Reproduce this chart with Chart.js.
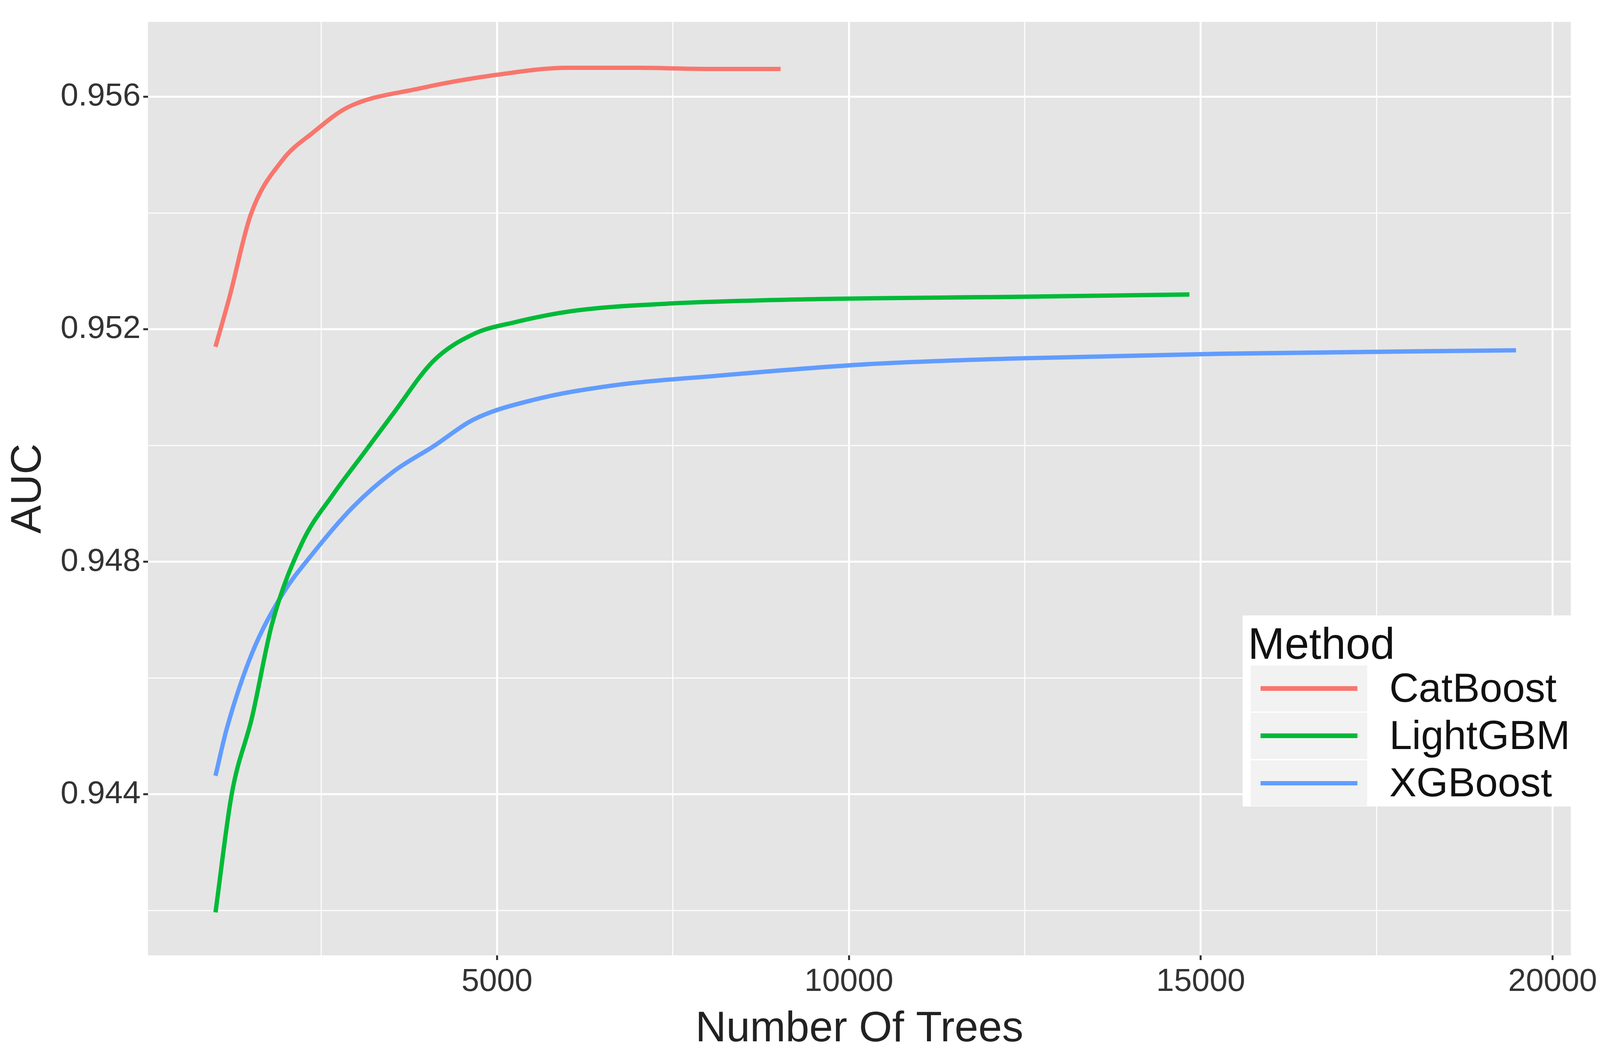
<!DOCTYPE html>
<html><head><meta charset="utf-8">
<script src="https://cdn.jsdelivr.net/npm/chart.js@4"></script>
<style>
html,body{margin:0;padding:0;background:#fff;overflow:hidden;}
#wrap{position:relative;font-family:"Liberation Sans",Arial,sans-serif;}
#legend{position:absolute;background:#fff;color:#111;}
#legend div{position:absolute;}
</style></head><body>
<div id="wrap"><canvas id="c"></canvas><div id="legend"></div></div>
<script>
const catX=[1000,1200,1500,1950,2380,2880,3880,5000,6000,7000,8000,9030];
const catY=[0.9517,0.95256,0.95397,0.95491,0.95538,0.95582,0.95614,0.95638,0.9565,0.9565,0.95648,0.95648];
const lgbX=[1000,1230,1520,1805,2235,2665,3095,3525,4100,4670,5245,6100,7390,9540,12400,14840];
const lgbY=[0.94197,0.9440,0.94533,0.94694,0.94834,0.94915,0.94985,0.95055,0.95146,0.95192,0.95212,0.95232,0.95244,0.95252,0.95256,0.9526];
const xgbX=[1000,1160,1520,1950,2380,2950,3525,4100,4670,5530,6680,8110,10260,12400,15270,19480];
const xgbY=[0.94432,0.94513,0.94643,0.94744,0.94814,0.94894,0.94955,0.94999,0.95045,0.95079,0.95104,0.9512,0.9514,0.9515,0.95158,0.95164];
const xTicks=[2500,5000,7500,10000,12500,15000,17500,20000];
const yTicks=[0.942,0.944,0.946,0.948,0.950,0.952,0.954,0.956];
const xLabels=[5000,10000,15000,20000];
const yLabels=[0.944,0.948,0.952,0.956];
const names=['CatBoost','LightGBM','XGBoost'];
const colors=['#F8766D','#00BA38','#619CFF'];

const W=window.innerWidth,H=window.innerHeight,s=Math.min(W/4800,H/2700);
const wrap=document.getElementById('wrap');wrap.style.width=W+'px';wrap.style.height=H+'px';
const cv=document.getElementById('c');cv.style.width=W+'px';cv.style.height=H+'px';
const px=v=>v*s;
// legend
const lg=document.getElementById('legend');
Object.assign(lg.style,{left:px(3728)+'px',top:px(1846)+'px',width:px(1010)+'px',height:px(573)+'px'});
let h='<div style="left:'+px(16)+'px;top:'+px(8)+'px;font-size:'+px(132)+'px">Method</div>';
names.forEach((n,i)=>{const t=px(150+142*i);
 h+='<div style="left:'+px(24)+'px;top:'+t+'px;width:'+px(350)+'px;height:'+px(138)+'px;background:#F2F2F2"><div style="left:'+px(30)+'px;top:'+px(62)+'px;width:'+px(290)+'px;height:'+px(14)+'px;background:'+colors[i]+'"></div></div>';
 h+='<div style="left:'+px(440)+'px;top:'+(t-px(6))+'px;font-size:'+px(122)+'px;line-height:1.2">'+n+'</div>';});
lg.innerHTML=h;

const pts=(xs,ys)=>xs.map((x,i)=>({x,y:ys[i]}));
const isMaj=(v,list)=>list.some(l=>Math.abs(l-v)<1e-9);
const ds=(i,xs,ys)=>({label:names[i],data:pts(xs,ys),borderColor:colors[i],borderWidth:px(13),pointRadius:0,cubicInterpolationMode:'monotone',fill:false});
const bgPlugin={id:'bg',beforeDraw(ch){const a=ch.chartArea,g=ch.ctx;g.save();g.fillStyle='#E5E5E5';g.fillRect(a.left,a.top,a.right-a.left,a.bottom-a.top);g.restore();}};
const F=(n)=>({size:px(n),family:'Liberation Sans'});
new Chart(cv,{type:'line',
data:{datasets:[ds(0,catX,catY),ds(1,lgbX,lgbY),ds(2,xgbX,xgbY)]},
options:{responsive:false,animation:false,
layout:{padding:{top:px(15),right:px(60),left:px(10),bottom:0}},
plugins:{legend:{display:false},tooltip:{enabled:false}},
scales:{
x:{type:'linear',min:40,max:20260,afterBuildTicks:sc=>{sc.ticks=xTicks.map(v=>({value:v}));},
 ticks:{autoSkip:false,maxRotation:0,color:'#333',font:F(96),padding:px(8),callback:v=>isMaj(v,xLabels)?String(v):''},
 grid:{color:'#FFFFFF',lineWidth:c=>isMaj(c.tick.value,xLabels)?px(6):px(3),tickLength:px(14),tickColor:c=>isMaj(c.tick.value,xLabels)?'#333':'rgba(0,0,0,0)'},border:{display:false},
 title:{display:true,text:'Number Of Trees',color:'#222',font:F(128),padding:{top:0,bottom:0}}},
y:{min:0.94123,max:0.95729,afterBuildTicks:sc=>{sc.ticks=yTicks.map(v=>({value:v}));},
 ticks:{autoSkip:false,color:'#333',font:F(96),padding:px(8),callback:v=>isMaj(v,yLabels)?v.toFixed(3):''},
 grid:{color:'#FFFFFF',lineWidth:c=>isMaj(c.tick.value,yLabels)?px(6):px(3),tickLength:px(14),tickColor:c=>isMaj(c.tick.value,yLabels)?'#333':'rgba(0,0,0,0)'},border:{display:false},
 title:{display:true,text:'AUC',color:'#222',font:F(128),padding:{top:0,bottom:px(10)}}}
}},plugins:[bgPlugin]});
</script></body></html>
